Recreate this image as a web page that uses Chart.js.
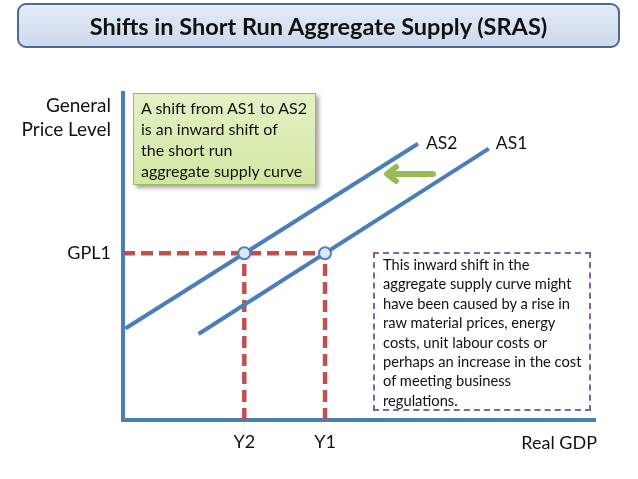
<!DOCTYPE html>
<html>
<head>
<meta charset="utf-8">
<script src="https://cdn.jsdelivr.net/npm/chart.js@4.4.1/dist/chart.umd.min.js"></script>
<style>
  body { margin: 0; background: #fff; font-family: Lato, "Open Sans", sans-serif; }
  #wrap { position: relative; width: 638px; height: 479px; overflow: hidden; }
  #wrap canvas { position: absolute; left: 0; top: 0; }
  .titulo {
    position: absolute; left: 17px; top: 3px; width: 599px; height: 41px;
    border: 2px solid #4b6a93; border-radius: 9px;
    background: linear-gradient(#e3ebf6, #cddaec);
    font-weight: bold; font-size: 23.5px; line-height: 42px; text-align: center; color: #111;
  }
  .nota-verde {
    position: absolute; left: 133px; top: 93px; width: 168px; height: 84px;
    padding: 3px 6px 3px 7px;
    border: 1px solid #9bbb59;
    background: linear-gradient(#e4f1c6, #d2e7a2);
    box-shadow: 3px 3px 4px rgba(0,0,0,0.35);
    font-size: 16px; line-height: 21px; color: #111; white-space: nowrap;
  }
  .nota-roxa {
    position: absolute; left: 373px; top: 252px; width: 218px; height: 159px;
    box-sizing: border-box; padding: 1px 4px 0 8px;
    border: 2px dashed #8064a2;
    font-size: 14.7px; line-height: 19.4px; color: #111; white-space: nowrap;
  }
</style>
</head>
<body>
<div id="wrap">
  <canvas id="graficoSras"></canvas>
  <div class="titulo">Shifts in Short Run Aggregate Supply (SRAS)</div>
  <div class="nota-verde">A shift from AS1 to AS2<br>is an inward shift of<br>the short run<br>aggregate supply curve</div>
  <div class="nota-roxa">This inward shift in the<br>aggregate supply curve might<br>have been caused by a rise in<br>raw material prices, energy<br>costs, unit labour costs or<br>perhaps an increase in the cost<br>of meeting business<br>regulations.</div>
</div>
<script>
// curvas de oferta agregada (x = PIB real, y = nivel de precos)
const as1X = [16, 77.5];
const as1Y = [26.3, 83];
const as2X = [0.5, 62.5];
const as2Y = [28, 84.5];
const curveNames = ['AS1', 'AS2'];

// equilibrio
const gplValue = 51;
const yTickValues = [51];
const yTickLabels = ['GPL1'];
const xTickValues = [25.7, 42.8];
const xTickLabels = ['Y2', 'Y1'];

const yTitle = ['General', 'Price Level'];
const xTitle = 'Real GDP';

const azul = '#4a7ebb';
const vermelho = '#c0504d';
const fonte = 'Lato, "Open Sans", sans-serif';

document.addEventListener('DOMContentLoaded', function() {

    const toPts = (xs, ys) => xs.map((x, i) => ({ x: x, y: ys[i] }));

    const rotulos = {
        id: 'rotulos',
        afterDraw(chart) {
            const ctx = chart.ctx;
            const sx = chart.scales.x, sy = chart.scales.y;
            ctx.save();
            ctx.fillStyle = '#111';
            ctx.font = '19px ' + fonte;
            ctx.textBaseline = 'middle';

            // titulo do eixo y, na horizontal
            ctx.textAlign = 'right';
            ctx.fillText(yTitle[0], sx.left - 12, 106);
            ctx.fillText(yTitle[1], sx.left - 12, 130);
            ctx.font = '18px ' + fonte;
            ctx.fillText(xTitle, sx.right + 2, 443);

            // nomes das curvas no topo
            ctx.font = '17.5px ' + fonte;
            ctx.textAlign = 'left';
            ctx.fillText(curveNames[1], sx.getPixelForValue(as2X[1]) + 8, sy.getPixelForValue(as2Y[1]));
            ctx.fillText(curveNames[0], sx.getPixelForValue(as1X[1]) + 7, sy.getPixelForValue(as1Y[1]) - 5);

            // seta verde
            ctx.strokeStyle = '#9bbb59';
            ctx.lineWidth = 6;
            ctx.lineCap = 'round';
            ctx.lineJoin = 'round';
            ctx.beginPath();
            ctx.moveTo(433, 174);
            ctx.lineTo(388, 174);
            ctx.moveTo(396, 167);
            ctx.lineTo(387, 174);
            ctx.lineTo(396, 181);
            ctx.stroke();
            ctx.restore();
        }
    };

    const canvas = document.getElementById('graficoSras');
    new Chart(canvas.getContext('2d'), {
        type: 'scatter',
        data: {
            datasets: [
                {
                    data: toPts(xTickValues, xTickValues.map(() => gplValue)),
                    showLine: false,
                    pointRadius: 6,
                    pointBackgroundColor: '#dce6f2',
                    pointBorderColor: '#4f81bd',
                    pointBorderWidth: 2,
                    order: 0
                },
                {
                    data: toPts(as1X, as1Y),
                    showLine: true, borderColor: azul, borderWidth: 4, pointRadius: 0, order: 1
                },
                {
                    data: toPts(as2X, as2Y),
                    showLine: true, borderColor: azul, borderWidth: 4, pointRadius: 0, order: 1
                },
                {
                    data: [{ x: 0, y: gplValue }, { x: xTickValues[1], y: gplValue }],
                    showLine: true, borderColor: vermelho, borderWidth: 4.5, borderDash: [12, 6], pointRadius: 0, order: 2
                },
                {
                    data: [{ x: xTickValues[0], y: 0 }, { x: xTickValues[0], y: gplValue }],
                    showLine: true, borderColor: vermelho, borderWidth: 4.5, borderDash: [12, 6], pointRadius: 0, order: 2
                },
                {
                    data: [{ x: xTickValues[1], y: 0 }, { x: xTickValues[1], y: gplValue }],
                    showLine: true, borderColor: vermelho, borderWidth: 4.5, borderDash: [12, 6], pointRadius: 0, order: 2
                }
            ]
        },
        options: {
            responsive: true,
            maintainAspectRatio: false,
            animation: false,
            layout: { padding: { top: 93, right: 43, left: 0, bottom: 0 } },
            plugins: { legend: { display: false }, tooltip: { enabled: false } },
            scales: {
                x: {
                    type: 'linear', min: 0, max: 100,
                    grid: { display: false, drawTicks: false },
                    border: { display: true, color: azul, width: 4 },
                    ticks: {
                        font: { size: 18, family: fonte }, color: '#111', padding: 11,
                        maxRotation: 0, autoSkip: false,
                        callback: (v, i) => xTickLabels[i]
                    },
                    afterBuildTicks: axis => { axis.ticks = xTickValues.map(v => ({ value: v })); },
                    afterFit: axis => { axis.height = 59; }
                },
                y: {
                    type: 'linear', min: 0, max: 100,
                    grid: { display: false, drawTicks: false },
                    border: { display: true, color: azul, width: 4 },
                    ticks: {
                        font: { size: 18, family: fonte }, color: '#111', padding: 12,
                        autoSkip: false,
                        callback: (v, i) => yTickLabels[i]
                    },
                    afterBuildTicks: axis => { axis.ticks = yTickValues.map(v => ({ value: v })); },
                    afterFit: axis => { axis.width = 123; }
                }
            }
        },
        plugins: [rotulos]
    });
});
</script>
</body>
</html>
